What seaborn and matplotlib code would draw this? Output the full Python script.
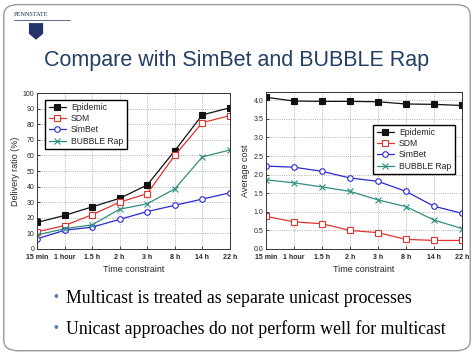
import matplotlib
matplotlib.use("Agg")
import matplotlib.pyplot as plt
import pandas as pd
import seaborn as sns
from matplotlib.patches import FancyBboxPatch, Polygon
from matplotlib.ticker import FormatStrFormatter, MultipleLocator

time_labels = ["15 min", "1 hour", "1.5 h", "2 h", "3 h", "8 h", "14 h", "22 h"]
series_names = ["Epidemic", "SDM", "SimBet", "BUBBLE Rap"]

ratio_epidemic = [17, 21.5, 27, 32.5, 41, 63, 86, 90.5]
ratio_sdm = [11, 15, 22, 30, 35.5, 60, 81, 85.5]
ratio_simbet = [6.5, 12, 14, 19, 24, 28, 32, 36]
ratio_bubble = [9, 13, 15.5, 25.5, 29, 38.5, 59, 63.5]

cost_epidemic = [4.08, 3.98, 3.97, 3.97, 3.96, 3.90, 3.89, 3.86]
cost_sdm = [0.88, 0.73, 0.68, 0.50, 0.44, 0.26, 0.23, 0.23]
cost_simbet = [2.23, 2.20, 2.09, 1.91, 1.82, 1.55, 1.15, 0.96]
cost_bubble = [1.86, 1.78, 1.67, 1.55, 1.32, 1.14, 0.78, 0.55]

colors = {"Epidemic": "#111111", "SDM": "#e0342f", "SimBet": "#2a2ad0", "BUBBLE Rap": "#2f8f7f"}
markers = {"Epidemic": "s", "SDM": "s", "SimBet": "o", "BUBBLE Rap": "x"}
filled = {"Epidemic": True, "SDM": False, "SimBet": False, "BUBBLE Rap": False}


def _long_frame(values: list[list[float]]) -> pd.DataFrame:
    rows = []
    for name, vals in zip(series_names, values):
        for label, v in zip(time_labels, vals):
            rows.append({"time": label, "value": v, "series": name})
    return pd.DataFrame(rows)


def _draw(ax, frame: pd.DataFrame) -> None:
    for name in series_names:
        sub = frame[frame["series"] == name]
        face = colors[name] if filled[name] else "white"
        sns.lineplot(
            data=sub, x="time", y="value", ax=ax, color=colors[name], lw=0.9,
            marker=markers[name], markersize=4, markerfacecolor=face,
            markeredgecolor=colors[name], markeredgewidth=0.8, label=name,
        )
    ax.set_xlim(0, len(time_labels) - 1)
    ax.grid(True, color="#9a9a9a", linestyle=":", linewidth=0.6)
    ax.tick_params(direction="in", labelsize=5, length=2.5, width=0.6, pad=2)
    ax.tick_params(axis="x", pad=3.5)
    for lab in ax.get_xticklabels():
        lab.set_fontweight("bold")
    for spine in ax.spines.values():
        spine.set_linewidth(0.7)
        spine.set_color("#333333")
    ax.set_xlabel("Time constraint", fontsize=6.5, labelpad=3)


sns.set_style("ticks")
plt.rcParams["font.family"] = ["Liberation Sans", "DejaVu Sans"]

fig = plt.figure(figsize=(4.74, 3.55), dpi=100)
fig.patch.set_facecolor("white")

frame_patch = FancyBboxPatch((0.008, 0.012), 0.984, 0.975, boxstyle="round,pad=0,rounding_size=0.03",
                             transform=fig.transFigure, fill=False, edgecolor="#9a9a9a", lw=1.0)
fig.patches.append(frame_patch)

legend_kw = dict(fontsize=6.2, frameon=True, fancybox=False, edgecolor="black", framealpha=1,
                 handlelength=2.0, borderpad=0.4, labelspacing=0.25, handletextpad=0.6)

ax1 = fig.add_axes([0.078, 0.2986, 0.407, 0.4394])
_draw(ax1, _long_frame([ratio_epidemic, ratio_sdm, ratio_simbet, ratio_bubble]))
ax1.set_ylim(0, 100)
ax1.yaxis.set_major_locator(MultipleLocator(10))
ax1.set_ylabel("Delivery ratio (%)", fontsize=6.5, labelpad=2)
ax1.legend(loc="upper left", bbox_to_anchor=(0.02, 0.985), **legend_kw)

ax2 = fig.add_axes([0.561, 0.2986, 0.4135, 0.442])
_draw(ax2, _long_frame([cost_epidemic, cost_sdm, cost_simbet, cost_bubble]))
ax2.set_ylim(0, 4.22)
ax2.yaxis.set_major_locator(MultipleLocator(0.5))
ax2.yaxis.set_major_formatter(FormatStrFormatter("%.1f"))
ax2.set_ylabel("Average cost", fontsize=6.5, labelpad=2)
ax2.legend(loc="upper right", bbox_to_anchor=(0.985, 0.82), **legend_kw)

fig.text(0.5, 0.83, "Compare with SimBet and BUBBLE Rap", ha="center", va="center",
         fontsize=15.5, color="#243f66")

fig.text(0.03, 0.958, "PENNSTATE", ha="left", va="center", fontsize=4.5, color="#1e2f55",
         family=["Liberation Serif"])
fig.add_artist(plt.Line2D([0.03, 0.148], [0.943, 0.943], color="#1e2f55", lw=0.5))
fig.add_artist(Polygon([[0.061, 0.935], [0.091, 0.935], [0.091, 0.905], [0.076, 0.888], [0.061, 0.905]],
                       closed=True, facecolor="#24346b", edgecolor="none", transform=fig.transFigure))

bullets = ["Multicast is treated as separate unicast processes",
           "Unicast approaches do not perform well for multicast"]
for i, text in enumerate(bullets):
    y = 0.158 - i * 0.085
    fig.text(0.117, y + 0.004, "\u2022", ha="center", va="center", fontsize=10, color="#5b7fa8")
    fig.text(0.14, y, text, ha="left", va="center", fontsize=12.8, color="black",
             family=["Liberation Serif", "DejaVu Serif"])

fig.savefig("out.png", dpi=100)
